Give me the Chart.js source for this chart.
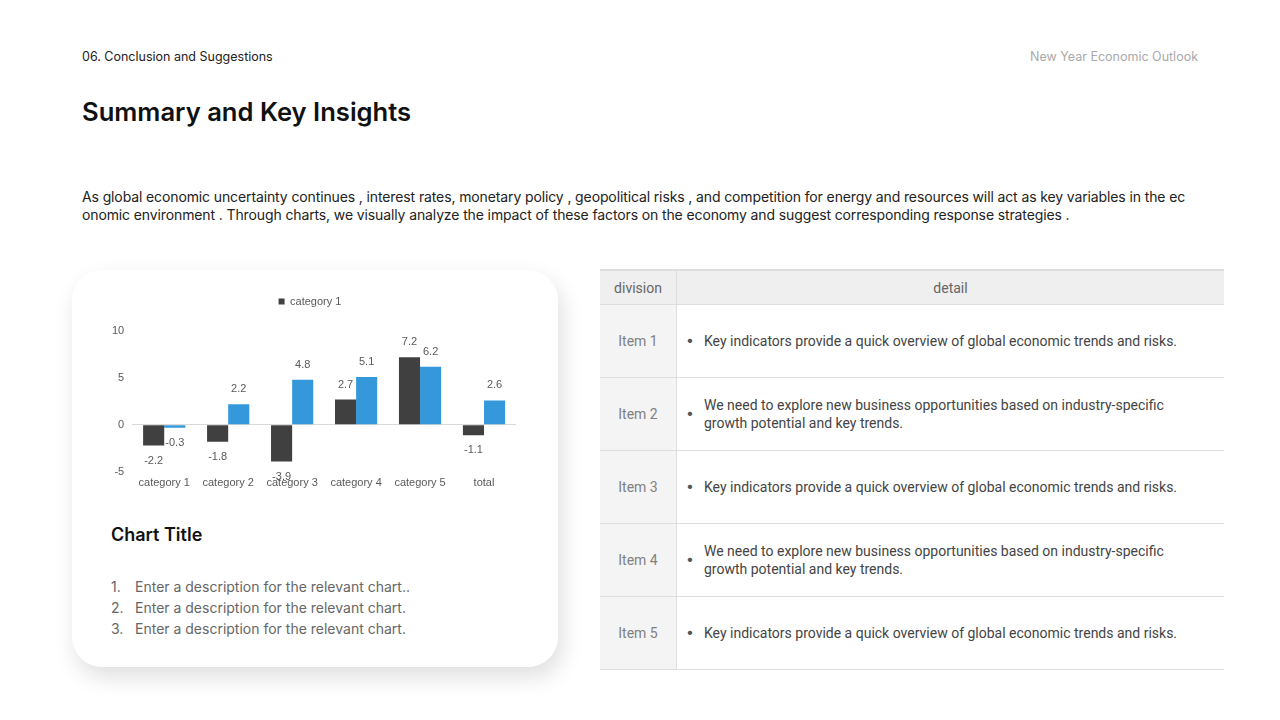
<!DOCTYPE html>
<html>
<head>
<meta charset="utf-8">
<script src="https://cdn.jsdelivr.net/npm/chart.js@4.4.0/dist/chart.umd.min.js"></script>
<style>
    body { margin: 0; width: 1280px; height: 720px; background: #fff; font-family: Inter, "Noto Sans", sans-serif; position: relative; overflow: hidden; }
    .crumb { position: absolute; left: 82px; top: 49px; font-size: 12.5px; color: #222; }
    .brand { position: absolute; right: 82px; top: 49px; font-size: 12.5px; color: #aaa; }
    h1 { position: absolute; left: 82px; top: 96px; margin: 0; font-size: 25.6px; font-weight: 600; color: #111; }
    .lead { position: absolute; left: 82px; top: 188px; width: 1107px; font-size: 14px; line-height: 18px; color: #222; word-break: break-all; letter-spacing: -0.12px; }
    .card { position: absolute; left: 72px; top: 270px; width: 486px; height: 397px; background: #fff; border-radius: 30px; box-shadow: 4px 10px 22px rgba(0,0,0,0.13); }
    .chart-wrap { position: absolute; left: 104px; top: 290px; width: 426px; height: 205px; }
    .card h2 { position: absolute; left: 39px; top: 254px; margin: 0; font-size: 18px; font-weight: 600; color: #111; }
    .card ol { position: absolute; left: 39px; top: 306px; margin: 0; padding: 0; list-style: none; font-size: 14px; line-height: 21px; color: #666; }
    .card ol span { display: inline-block; width: 24px; }
    table { position: absolute; left: 600px; top: 269px; width: 624px; border-collapse: collapse; font-size: 14px; font-family: Roboto, sans-serif; }
    th { height: 33px; padding: 0; background: #efefef; color: #666; font-weight: 400; border-top: 2px solid #ddd; border-bottom: 1px solid #ddd; }
    td { height: 72px; padding: 0; border-bottom: 1px solid #ddd; color: #444; line-height: 18px; }
    td.div { width: 76px; background: #f4f4f4; color: #808080; text-align: center; border-right: 1px solid #ddd; }
    th.div { border-right: 1px solid #ddd; }
    td.det { padding: 0 16px 0 27px; position: relative; }
    td.det::before { content: "\2022"; position: absolute; left: 9px; top: 50%; transform: translateY(-54%); color: #555; font-family: Inter, sans-serif; font-size: 14px; }
</style>
</head>
<body>
<div class="crumb">06. Conclusion and Suggestions</div>
<div class="brand">New Year Economic Outlook</div>
<h1>Summary and Key Insights</h1>
<div class="lead">As global economic uncertainty continues , interest rates, monetary policy , geopolitical risks , and competition for energy and resources will act as key variables in the economic environment . Through charts, we visually analyze the impact of these factors on the economy and suggest corresponding response strategies .</div>

<div class="card">
    <h2>Chart Title</h2>
    <ol>
        <li><span>1.</span>Enter a description for the relevant chart..</li>
        <li><span>2.</span>Enter a description for the relevant chart.</li>
        <li><span>3.</span>Enter a description for the relevant chart.</li>
    </ol>
</div>
<div class="chart-wrap"><canvas id="chart"></canvas></div>

<table>
    <tr><th class="div">division</th><th>detail</th></tr>
    <tr><td class="div">Item 1</td><td class="det">Key indicators provide a quick overview of global economic trends and risks.</td></tr>
    <tr><td class="div">Item 2</td><td class="det">We need to explore new business opportunities based on industry-specific growth potential and key trends.</td></tr>
    <tr><td class="div">Item 3</td><td class="det">Key indicators provide a quick overview of global economic trends and risks.</td></tr>
    <tr><td class="div">Item 4</td><td class="det">We need to explore new business opportunities based on industry-specific growth potential and key trends.</td></tr>
    <tr><td class="div">Item 5</td><td class="det">Key indicators provide a quick overview of global economic trends and risks.</td></tr>
</table>

<script>
const labels = ['category 1', 'category 2', 'category 3', 'category 4', 'category 5', 'total'];
const series1 = [-2.2, -1.8, -3.9, 2.7, 7.2, -1.1];
const series2 = [-0.3, 2.2, 4.8, 5.1, 6.2, 2.6];
const yTicks = [-5, 0, 5, 10];

const tickFont = { size: 11, family: '"Liberation Sans", Arial, sans-serif' };

// draws the value next to each bar end
const valueLabels = {
    id: 'valueLabels',
    afterDatasetsDraw(chart) {
        const ctx = chart.ctx;
        ctx.save();
        ctx.font = '11px "Liberation Sans", Arial, sans-serif';
        ctx.fillStyle = '#595959';
        ctx.textAlign = 'center';
        ctx.textBaseline = 'middle';
        chart.data.datasets.forEach((ds, i) => {
            chart.getDatasetMeta(i).data.forEach((bar, j) => {
                const v = ds.data[j];
                const y = v >= 0 ? bar.y - 15 : bar.y + 15;
                ctx.fillText(v.toFixed(1), bar.x, y);
            });
        });
        ctx.restore();
    }
};

// leave room under the legend like the original
const legendGap = {
    id: 'legendGap',
    beforeInit(chart) {
        const fit = chart.legend.fit;
        chart.legend.fit = function () {
            fit.bind(chart.legend)();
            this.height = 41;
        };
    }
};

new Chart(document.getElementById('chart'), {
    type: 'bar',
    data: {
        labels: labels,
        datasets: [
            { label: 'category 1', data: series1, backgroundColor: '#404040' },
            { label: 'category 2', data: series2, backgroundColor: '#3498db' }
        ]
    },
    options: {
        responsive: true,
        maintainAspectRatio: false,
        animation: false,
        categoryPercentage: 0.66,
        barPercentage: 1,
        layout: { padding: { top: 0, right: 14, bottom: 0, left: 0 } },
        plugins: {
            legend: {
                labels: {
                    filter: item => item.datasetIndex === 0,
                    boxWidth: 6, boxHeight: 6,
                    font: tickFont,
                    color: '#595959',
                    padding: 6
                }
            },
            tooltip: { enabled: false }
        },
        scales: {
            x: {
                grid: { display: false, drawTicks: false, tickLength: 0 },
                border: { display: false },
                ticks: { color: '#595959', font: tickFont, padding: 5 }
            },
            y: {
                min: -5, max: 10,
                afterBuildTicks: axis => { axis.ticks = yTicks.map(v => ({ value: v })); },
                grid: { color: c => c.tick.value === 0 ? '#d9d9d9' : 'transparent', drawTicks: false },
                border: { display: false },
                ticks: { color: '#595959', font: tickFont, padding: 8 }
            }
        }
    },
    plugins: [valueLabels, legendGap]
});
</script>
</body>
</html>
